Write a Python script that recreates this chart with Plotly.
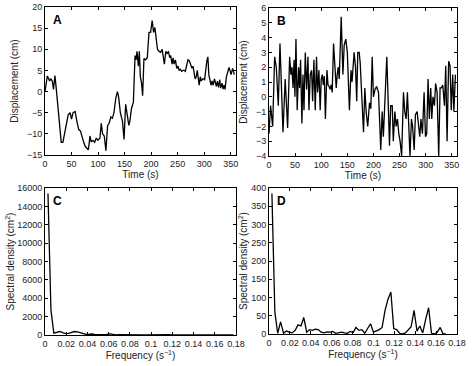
import plotly.graph_objects as go

# ---------------- data ----------------
time_a = [0, 4.4, 7, 8.7, 11, 13.7, 16, 18.7, 21, 24, 27.4, 30.6, 33.7, 36.8, 40, 43.7, 47.4, 50, 53,
          56.8, 60, 63.6, 66.7, 69.9, 73, 76, 79, 81.7, 84.8, 87, 90.5, 93.6, 96.7, 99.8, 103.6, 106,
          108.5, 111.7, 114.8, 118, 121, 124, 127, 130, 133.5, 136.6, 139, 142, 146, 149, 152, 154.7,
          158, 160, 163, 166.6, 169.7, 171.6, 173.4, 176, 177.8, 179.7, 182, 184, 186.5, 189.6, 192.8,
          196, 199, 202, 204.6, 207, 209.6, 212, 215, 218, 220.8, 223.4, 225, 227.7, 230, 232.7, 235,
          237, 239.5, 241.4, 243.3, 245.8, 248.3, 250.8, 252.6, 255, 257.6, 260, 262.6, 264.5, 267,
          269.5, 272, 274.5, 277, 279, 281, 283, 285, 287, 289, 290.7, 292.6, 294.5, 297, 298.8, 300.7,
          302.6, 305, 307, 308.8, 311.3, 313, 315, 317, 319.4, 321, 323, 325, 327, 329.4, 331, 333.7,
          335.6, 337.5, 339.4, 341.9, 344.4, 346.8, 348.7, 350.6, 353.7, 356.8]
disp_a = [0, 3.7, 3, 2.5, 3, 2.5, 0.5, 3.8, 1, -3, -6.5, -12, -12, -10, -7, -5.5, -5, -6.5, -5,
          -4.7, -7, -9, -9.3, -11, -12, -13, -13.5, -13.8, -10.5, -11.8, -11.6, -12, -11, -11.5, -11,
          -7.5, -10, -10.5, -14, -8, -7.5, -6, -6.3, -5, -1.5, 0, -1.5, -5, -7, -11.3, -3, -5.5,
          -8, -7, -4, -2.5, 8.5, 7.5, 9.5, 6, 9.5, 3.5, 2, -1, 7.8, 7.5, 8,
          14, 14, 16.8, 14, 15.2, 12, 10, 9.5, 9.3, 10, 8, 6.5, 9.5, 9, 9.5, 8,
          8.5, 6.5, 8, 6.5, 7.5, 5.5, 6, 5, 5.3, 4.8, 5, 5, 4.8, 6,
          7.5, 7.3, 6.5, 5.5, 6, 4, 3, 3.5, 5, 3, 1.5, 3.5, 2.5, 3, 3, 2.7,
          5, 7.2, 8.2, 4, 2.5, 1.5, 2.5, 1.5, 3, 2, 1.2, 2.5, 1, 2.8, 0.8, 2,
          0.6, 1.5, 0.5, 3.5, 4.5, 5.7, 5, 4, 5.5, 4]

time_b = [0, 3, 7, 10.8, 14, 17.8, 21, 26.8, 31, 33, 35.7, 39.5, 42, 44, 46, 48, 49.7, 51.6, 54,
          56.7, 58.6, 60.5, 63, 65, 67, 69.5, 72, 74.6, 76.5, 79, 81.6, 83.5, 86, 88.6, 91, 93, 95.6,
          98, 100, 102, 104, 106, 108, 111, 113, 115, 117, 119, 121, 123.6, 126, 128.7, 130.6, 132.6,
          134.5, 138.3, 141.5, 144, 147, 150, 154, 157, 159, 160.6, 163, 165.7, 168, 170, 172.7, 174.6,
          177, 181, 183.5, 186, 189, 192.5, 195, 197.6, 200, 203, 206, 209.7, 214, 216.7, 219, 225.6,
          228.8, 230.7, 233, 236, 238, 241, 243.5, 246, 248.6, 251, 254, 257.5, 260, 262.6, 265, 267.7,
          270, 272.8, 275, 278, 280.4, 283.6, 286, 288.7, 291, 293.8, 297, 299.6, 302, 304.6, 307,
          309.7, 311.7, 314, 316.8, 319, 321.9, 325, 327.6, 330, 332.7, 336, 338.4, 341, 344, 346.7,
          349, 351.8, 354, 357]
disp_b = [-2.5, -0.6, -2, 2.7, 2, -0.6, 3.6, -2.4, 1.2, -0.5, -2.1, 2.7, 1.5, 2, 0.6, 2.5, 0, 3.9, -0.9,
          2, 0.6, 2.5, -1.8, 1.5, -0.9, 3, 0.5, 2.7, -0.9, 1.5, 1.8, -0.3, 2.5, -0.9, 2.7, 0.3, 1.8,
          -0.9, 1.2, 1.5, 0.8, 1.4, -1.5, 1.8, 0.8, 0.7, 0.5, 0.8, 0.3, 3.6, 2.5, 0.6, 1.5, 2,
          1.2, 5.4, 1.5, 3.5, 3.9, 3, -0.9, 1.8, 1, 2, 3, 2, -0.3, 3, 3, 2.3,
          0.6, -2.4, 0.6, -1, -2, -0.4, -0.8, 2.7, 0, 0.5, 0.7, 0.3, -3.6, -1, -2.7, 2.7,
          -1, -3.3, -0.6, -0.6, -3, -1, -2, -1.5, -2.5, -3, -4, 0.3, -1, -1.5, 0.3, -2,
          -4, -1.5, -2, -3.6, -1.2, -1, -2, -2.7, -1.5, -2.5, 0.3, -2.7, -2.5, 1.2, -1.5,
          0.6, -1.5, 0, -0.6, 0.9, 0.3, -4, 0.6, 0.6, 0.8, -0.6, 2.1, -3, 2.4, 2.1,
          -0.9, 1.5, -1, 1.5]

freq = [0.0028, 0.0056, 0.0083, 0.0111, 0.0139, 0.0167, 0.0194, 0.0222, 0.0250, 0.0278,
        0.0306, 0.0333, 0.0361, 0.0389, 0.0417, 0.0444, 0.0472, 0.0500, 0.0528, 0.0556,
        0.0583, 0.0611, 0.0639, 0.0667, 0.0694, 0.0722, 0.0750, 0.0778, 0.0806, 0.0833,
        0.0861, 0.0889, 0.0917, 0.0944, 0.0972, 0.1000, 0.1028, 0.1056, 0.1083, 0.1111,
        0.1139, 0.1167, 0.1194, 0.1222, 0.1250, 0.1278, 0.1306, 0.1333, 0.1361, 0.1389,
        0.1417, 0.1444, 0.1472, 0.1500, 0.1528, 0.1556, 0.1583, 0.1611, 0.1639, 0.1667,
        0.1694, 0.1722, 0.1750, 0.1778]
psd_c = [15400, 2700, 200, 250, 380, 250, 150, 180, 300, 380,
         350, 250, 120, 60, 80, 110, 40, 30, 20, 30,
         60, 120, 50, 20, 25, 15, 20, 30, 15, 20,
         25, 15, 10, 20, 30, 15, 20, 25, 30, 40,
         35, 30, 20, 15, 10, 10, 15, 20, 25, 30,
         20, 25, 15, 25, 30, 15, 10, 10, 15, 10,
         10, 10, 10, 10]
psd_d = [385, 60, 2, 33, 2, 8, 5, 3, 10, 25,
         22, 45, 5, 12, 10, 13, 12, 5, 3, 6,
         5, 7, 2, 3, 5, 3, 2, 7, 4, 18,
         10, 12, 2, 15, 28, 5, 8, 12, 18, 65,
         95, 115, 15, 12, 2, 0, 3, 10, 20, 65,
         8, 22, 3, 40, 72, 2, 0, 5, 18, 0,
         0]
freq_d = freq[:len(psd_d)]

time_ticks = [0, 50, 100, 150, 200, 250, 300, 350]
freq_ticks = [0, 0.02, 0.04, 0.06, 0.08, 0.1, 0.12, 0.14, 0.16, 0.18]
freq_tick_text = ["0", "0.02", "0.04", "0.06", "0.08", "0.1", "0.12", "0.14", "0.16", "0.18"]
panel_letters = ["A", "B", "C", "D"]

# ---------------- figure ----------------
W, H = 474, 366
FONT = "Liberation Sans, Arial, Helvetica, sans-serif"
PL, PR, PT, PB = 45, 457, 7, 335  # plot-area box in pixels

def dom_x(a, b):
    return [(a - PL) / (PR - PL), (b - PL) / (PR - PL)]

def dom_y(top, bottom):
    h = PB - PT
    return [(PB - bottom) / h, (PB - top) / h]

fig = go.Figure()
line = dict(color="black", width=1.3)
fig.add_trace(go.Scatter(x=time_a, y=disp_a, mode="lines", line=line, xaxis="x", yaxis="y"))
fig.add_trace(go.Scatter(x=time_b, y=disp_b, mode="lines", line=line, xaxis="x2", yaxis="y2"))
fig.add_trace(go.Scatter(x=freq, y=psd_c, mode="lines", line=line, xaxis="x3", yaxis="y3"))
fig.add_trace(go.Scatter(x=freq_d, y=psd_d, mode="lines", line=line, xaxis="x4", yaxis="y4"))

common = dict(showline=True, linecolor="black", linewidth=1, mirror="ticks", ticks="inside",
              ticklen=3, tickcolor="black", showgrid=False, zeroline=False, automargin=False,
              tickfont=dict(size=9, color="#222", family=FONT))
tfont = dict(size=10, color="#222", family=FONT)

xa_time = dict(common, range=[0, 360], tickvals=time_ticks,
               title=dict(text="Time (s)", font=tfont, standoff=0))
xa_freq = dict(common, range=[0, 0.18], tickvals=freq_ticks, ticktext=freq_tick_text,
               title=dict(text="Frequency (s<sup>\u22121</sup>)", font=tfont, standoff=0))

fig.update_layout(
    width=W, height=H, margin=dict(l=PL, r=W - PR, t=PT, b=H - PB, autoexpand=False),
    paper_bgcolor="white", plot_bgcolor="white", showlegend=False,
    font=dict(family=FONT, color="#222"),
    xaxis=dict(xa_time, domain=dom_x(45, 236), anchor="y"),
    yaxis=dict(common, domain=dom_y(7, 155), anchor="x", range=[-15, 20], dtick=5,
               title=dict(text="Displacement (cm)", font=tfont, standoff=6)),
    xaxis2=dict(xa_time, domain=dom_x(269, 457), anchor="y2"),
    yaxis2=dict(common, domain=dom_y(8, 156), anchor="x2", range=[-4, 6], dtick=1,
                title=dict(text="Displacement (cm)", font=tfont, standoff=6)),
    xaxis3=dict(xa_freq, domain=dom_x(45, 236), anchor="y3"),
    yaxis3=dict(common, domain=dom_y(188, 335), anchor="x3", range=[0, 16000], dtick=2000,
                tickformat="d",
                title=dict(text="Spectral density (cm<sup>2</sup>)", font=tfont, standoff=0)),
    xaxis4=dict(xa_freq, domain=dom_x(269, 457), anchor="y4"),
    yaxis4=dict(common, domain=dom_y(188, 334), anchor="x4", range=[0, 400], dtick=50,
                title=dict(text="Spectral density (cm<sup>2</sup>)", font=tfont, standoff=1)),
)

for i, letter in enumerate(panel_letters):
    ax = "" if i == 0 else str(i + 1)
    fig.add_annotation(text="<b>%s</b>" % letter, xref="x%s domain" % ax, yref="y%s domain" % ax,
                       x=0.03, y=0.975, xanchor="left", yanchor="top", showarrow=False,
                       font=dict(size=12, color="black", family=FONT))

fig.write_html("out.html", config={"displayModeBar": False},
               post_script="document.body.style.margin='0';document.body.style.padding='0';")
